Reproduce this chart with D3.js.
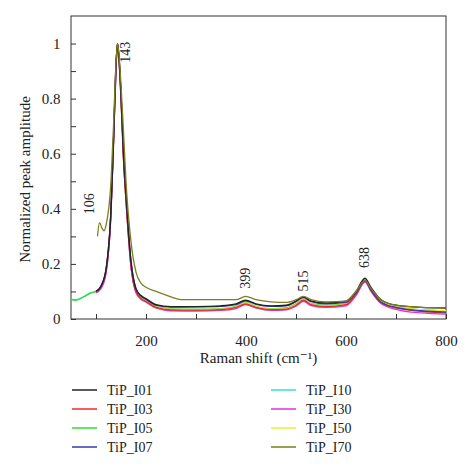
<!DOCTYPE html>
<html>
<head>
<meta charset="utf-8">
<script src="https://cdn.jsdelivr.net/npm/d3@7"></script>
<style>
body { margin: 0; background: #fff; }
text { font-family: "Liberation Serif", "DejaVu Serif", serif; }
</style>
</head>
<body>
<svg id="chart" width="474" height="472"></svg>
<script>
// shared wavenumbers for most spectra
var xs = [100,110,120,130,135,140,143,146,150,155,160,170,180,190,200,220,250,300,350,380,399,420,450,480,500,515,530,560,600,620,638,650,670,700,750,800];
// green / cyan start earlier
var xsLong = [50,60,70,80,90].concat(xs);
// TiP_I70 has its own shoulder near 106
var xsI70 = [103,107,112,116,120,130,135,140,143,146,150,155,160,170,180,190,200,220,250,270,300,350,380,399,420,450,480,500,515,530,560,600,620,638,650,670,700,750,800];

var yI01 = [0.10,0.12,0.18,0.40,0.65,0.92,1.0,0.95,0.82,0.60,0.45,0.21,0.11,0.085,0.074,0.052,0.045,0.045,0.048,0.055,0.068,0.055,0.048,0.05,0.065,0.08,0.066,0.058,0.065,0.10,0.148,0.115,0.07,0.05,0.042,0.04];
var yI03 = [0.10,0.115,0.17,0.39,0.64,0.91,1.0,0.94,0.80,0.58,0.43,0.19,0.10,0.075,0.064,0.042,0.033,0.032,0.034,0.042,0.055,0.042,0.034,0.036,0.05,0.068,0.052,0.045,0.052,0.09,0.138,0.105,0.06,0.04,0.028,0.022];
var yI05 = [0.07,0.068,0.075,0.085,0.095,0.10,0.118,0.175,0.39,0.64,0.91,1.0,0.94,0.81,0.59,0.44,0.20,0.10,0.078,0.068,0.046,0.037,0.036,0.038,0.046,0.06,0.046,0.038,0.04,0.055,0.072,0.056,0.05,0.056,0.095,0.142,0.11,0.066,0.045,0.034,0.03];
var yI07 = [0.10,0.12,0.18,0.40,0.65,0.92,1.0,0.95,0.82,0.60,0.45,0.21,0.11,0.083,0.072,0.05,0.043,0.044,0.046,0.052,0.066,0.053,0.046,0.048,0.063,0.078,0.063,0.055,0.06,0.095,0.14,0.105,0.062,0.042,0.03,0.025];
var yI10 = [0.072,0.07,0.076,0.086,0.096,0.10,0.116,0.172,0.39,0.64,0.91,1.0,0.94,0.80,0.58,0.43,0.19,0.095,0.072,0.062,0.04,0.032,0.031,0.033,0.04,0.053,0.04,0.032,0.034,0.05,0.066,0.05,0.044,0.05,0.09,0.136,0.104,0.06,0.04,0.03,0.026];
var yI30 = [0.095,0.11,0.165,0.38,0.63,0.90,1.0,0.94,0.80,0.58,0.43,0.19,0.095,0.072,0.062,0.04,0.03,0.029,0.031,0.038,0.052,0.04,0.031,0.033,0.047,0.064,0.049,0.042,0.048,0.085,0.134,0.1,0.056,0.035,0.022,0.018];
var yI50 = [0.10,0.118,0.175,0.39,0.64,0.91,1.0,0.95,0.81,0.59,0.44,0.20,0.10,0.076,0.066,0.044,0.035,0.034,0.036,0.044,0.058,0.045,0.036,0.038,0.052,0.07,0.054,0.047,0.054,0.09,0.14,0.108,0.064,0.044,0.034,0.03];
var yI70 = [0.30,0.35,0.33,0.32,0.34,0.50,0.70,0.93,1.0,0.96,0.85,0.68,0.50,0.28,0.17,0.13,0.115,0.10,0.08,0.07,0.07,0.07,0.07,0.082,0.07,0.062,0.06,0.07,0.082,0.07,0.062,0.065,0.1,0.14,0.11,0.07,0.05,0.042,0.04];

var names = ["TiP_I01","TiP_I03","TiP_I05","TiP_I07","TiP_I10","TiP_I30","TiP_I50","TiP_I70"];
var colors = ["#222222","#ee2a2a","#33dd33","#3a3aa8","#33dddd","#dd33dd","#eeee33","#7d7d22"];
var xsets = [xs, xs, xsLong, xs, xsLong, xs, xs, xsI70];
var ysets = [yI01, yI03, yI05, yI07, yI10, yI30, yI50, yI70];
var drawOrder = [4,2,6,5,1,3,0,7];

var peakPos = [106,143,399,515,638];
var peakLab = ["106","143","399","515","638"];
var peakLabY = [0.38,0.93,0.11,0.10,0.185];

var svg = d3.select("#chart");
var margin = {l: 71, r: 28, t: 16, b: 153};
var W = 474, H = 472;

var x = d3.scaleLinear().domain([50, 800]).range([margin.l, W - margin.r]);
var y = d3.scaleLinear().domain([0, 1.1]).range([H - margin.b - 0, margin.t]);

var g = svg.append("g");

// frame
g.append("rect").attr("x", x(50)).attr("y", y(1.1))
  .attr("width", x(800) - x(50)).attr("height", y(0) - y(1.1))
  .attr("fill", "none").attr("stroke", "#333").attr("stroke-width", 1);

var xAxis = d3.axisBottom(x).tickValues([100,200,300,400,500,600,700,800])
  .tickSize(-5).tickFormat(d => d % 200 == 0 ? d : "");
g.append("g").attr("transform", "translate(0," + y(0) + ")").call(xAxis)
  .call(a => a.select(".domain").remove())
  .selectAll("text").attr("dy", "1.6em").style("font-size", "15px").style("fill", "#222");

var yAxis = d3.axisLeft(y).tickValues(d3.range(0, 1.05, 0.1))
  .tickSize(-5).tickFormat(d => { var r = Math.round(d * 10); return r % 2 == 0 ? d3.format("~g")(r / 10) : ""; });
g.append("g").attr("transform", "translate(" + x(50) + ",0)").call(yAxis)
  .call(a => a.select(".domain").remove())
  .selectAll("text").attr("dx", "-0.5em").style("font-size", "15px").style("fill", "#222");

svg.selectAll(".tick line").attr("stroke", "#333");

var line = d3.line().x(d => x(d[0])).y(d => y(d[1])).curve(d3.curveMonotoneX);

drawOrder.forEach(i => {
  var pts = xsets[i].map((v, k) => [v, ysets[i][k]]);
  g.append("path").datum(pts).attr("d", line)
    .attr("fill", "none").attr("stroke", colors[i]).attr("stroke-width", 1.3);
});

// peak labels
peakPos.forEach((p, k) => {
  var px = x(p) + (p == 143 ? 12 : (p == 106 ? -5 : 4));
  g.append("text").attr("transform", "translate(" + px + "," + y(peakLabY[k]) + ") rotate(-90)")
    .attr("text-anchor", "start").style("font-size", "14px").style("fill", "#222")
    .text(peakLab[k]);
});

// axis titles
svg.append("text").attr("x", (x(50) + x(800)) / 2).attr("y", 363)
  .attr("text-anchor", "middle").style("font-size", "15px").style("fill", "#222")
  .text("Raman shift (cm\u207B\u00B9)");
svg.append("text").attr("transform", "translate(30," + ((y(0) + y(1.1)) / 2 + 12) + ") rotate(-90)")
  .attr("text-anchor", "middle").style("font-size", "15px").style("fill", "#222")
  .text("Normalized peak amplitude");

// legend
names.forEach((n, i) => {
  var col = Math.floor(i / 4), row = i % 4;
  var lx = col == 0 ? 72 : 271, ly = 390 + row * 19;
  svg.append("line").attr("x1", lx).attr("x2", lx + 25).attr("y1", ly).attr("y2", ly)
    .attr("stroke", colors[i]).attr("stroke-width", 1.5);
  svg.append("text").attr("x", lx + 35).attr("y", ly + 5)
    .style("font-size", "14px").style("fill", "#222").text(n);
});
</script>
</body>
</html>
